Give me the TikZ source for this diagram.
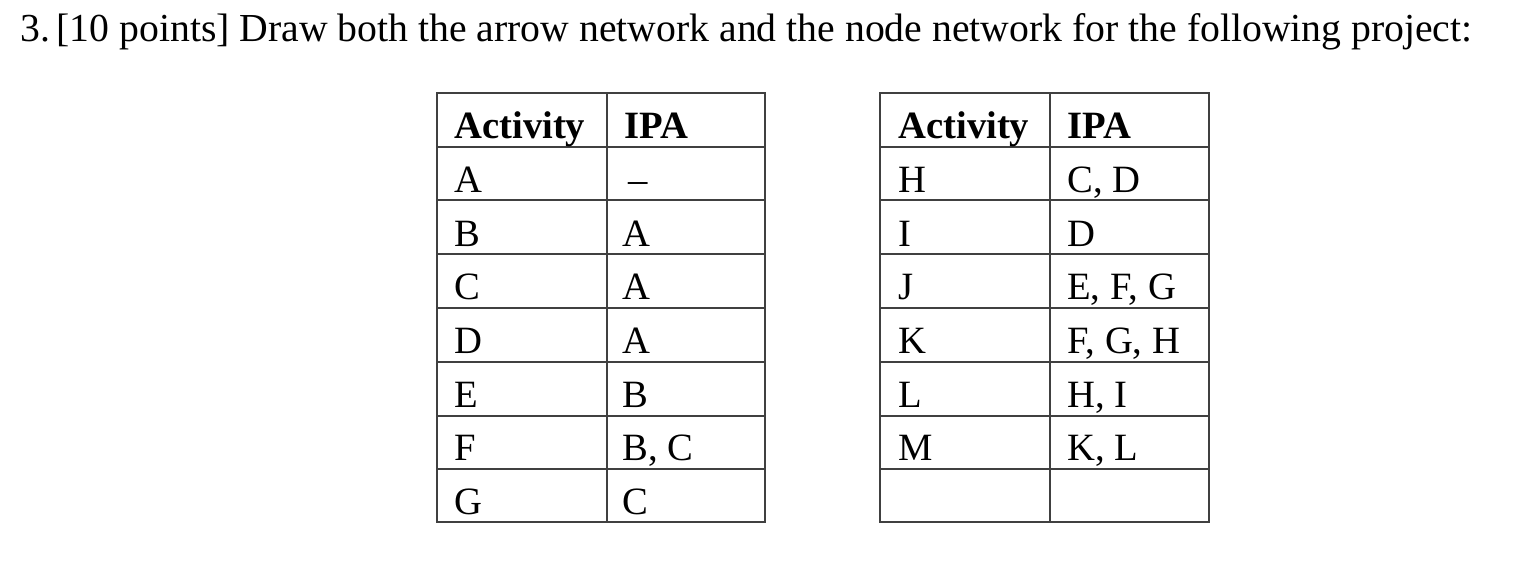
\documentclass[tikz,border=0pt]{standalone}
\usepackage{fontspec}
\setmainfont{Liberation Serif}
\begin{document}
\begin{tikzpicture}[x=0.02cm,y=-0.02cm,
  grid/.style={draw=black!75,line width=1.2pt},
  cell/.style={anchor=base west,inner sep=0pt,font=\fontsize{22pt}{26pt}\selectfont},
  hcell/.style={cell,font=\fontsize{22pt}{26pt}\selectfont\bfseries}]
\useasboundingbox (0,0) rectangle (1520,564);
\node[anchor=base west,inner sep=0pt,font=\fontsize{22.6pt}{26pt}\selectfont] (title) at (20,42)
  {3.\,[10 points] Draw both the arrow network and the node network for the following project:};
% table 1
\draw[grid] (437,93) rectangle (765,522);
\draw[grid] (607,93) -- (607,522);
\foreach \y in {147,200,254,308,362,416,469} \draw[grid] (437,\y) -- (765,\y);
\node[hcell] (a0) at (454,139) {Activity};
\node[hcell] (b0) at (624,139) {IPA};
\foreach \a/\b [count=\i] in {A/{\,–},B/A,C/A,D/A,E/B,F/{B, C},G/C}{
  \pgfmathsetmacro\yy{139+53.6*\i}
  \node[cell] (a\i) at (454,\yy) {\a};
  \node[cell] (b\i) at (622,\yy) {\b};
}
% table 2
\draw[grid] (880,93) rectangle (1209,522);
\draw[grid] (1050,93) -- (1050,522);
\foreach \y in {147,200,254,308,362,416,469} \draw[grid] (880,\y) -- (1209,\y);
\node[hcell] (c0) at (898,139) {Activity};
\node[hcell] (d0) at (1067,139) {IPA};
\foreach \a/\b [count=\i] in {H/{C, D},I/D,J/{E, F, G},K/{F, G, H},L/{H, I},M/{K, L}}{
  \pgfmathsetmacro\yy{139+53.6*\i}
  \node[cell] (c\i) at (898,\yy) {\a};
  \node[cell] (d\i) at (1067,\yy) {\b};
}
\end{tikzpicture}
\end{document}
